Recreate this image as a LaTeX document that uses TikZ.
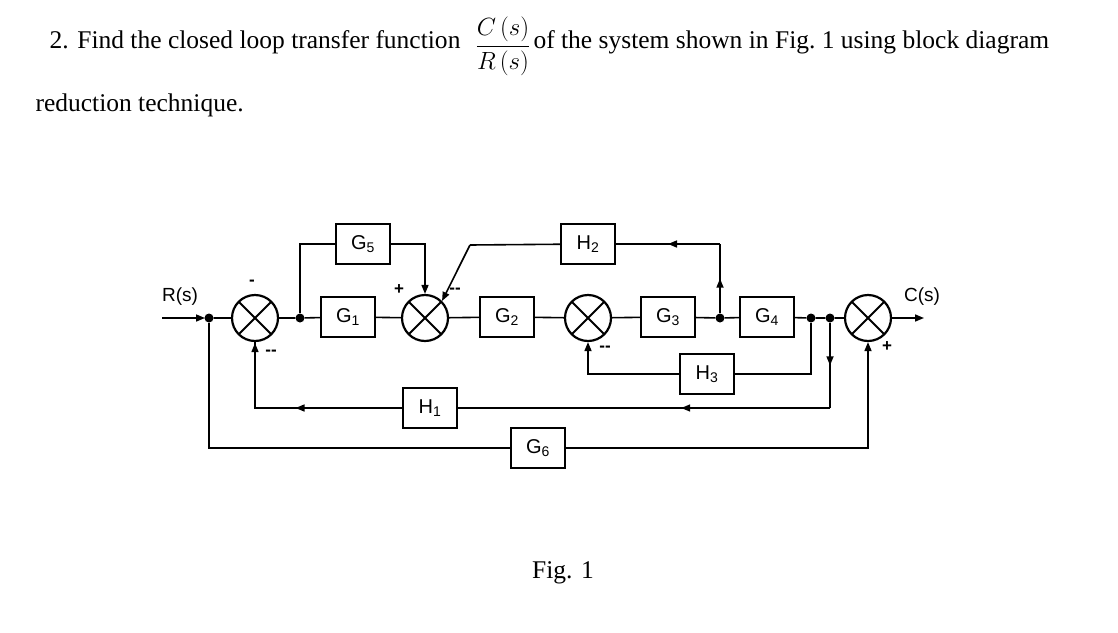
\documentclass[tikz,border=0pt]{standalone}
\usepackage{fontspec}
\setmainfont{Liberation Serif}
\newfontfamily\dsans{Liberation Sans}
\usetikzlibrary{arrows.meta,decorations.markings}
\begin{document}
\begin{tikzpicture}[x=1pt,y=-1pt,
  blk/.style={draw,line width=2pt,minimum width=54pt,minimum height=40pt,font=\dsans\fontsize{20}{22}\selectfont},
  sum/.style={draw,line width=2.2pt,circle,minimum size=46pt,inner sep=0pt,path picture={
     \draw[line width=2pt] ([shift={(-16pt,16pt)}]path picture bounding box.center) -- ([shift={(16pt,-16pt)}]path picture bounding box.center)
                             ([shift={(-16pt,-16pt)}]path picture bounding box.center) -- ([shift={(16pt,16pt)}]path picture bounding box.center);}},
  dot/.style={circle,fill,inner sep=0pt,minimum size=9pt},
  ln/.style={line width=1.6pt},
  arr/.style={ln,-{Triangle[length=9pt,width=7pt]}},
  mid/.style={ln,decoration={markings,mark=at position #1 with {\arrow{Triangle[length=9pt,width=7pt]}}},postaction=decorate},
  sg/.style={font=\dsans\bfseries\fontsize{17}{17}\selectfont},
  lab/.style={font=\dsans\fontsize{19}{21}\selectfont},
  txt/.style={font=\fontsize{25.5}{28}\selectfont}]
\useasboundingbox (0,0) rectangle (1118,632);
\fill[white] (0,0) rectangle (1118,632);
% text
\node[anchor=east,txt] (t1) at (464,42) {2. Find the closed loop transfer function};
\node[txt] (fr) at (503,46) {$\displaystyle\frac{C\left(s\right)}{R\left(s\right)}$};
\node[anchor=west,txt] (t2) at (530,42) {of the system shown in Fig.~1 using block diagram};
\node[anchor=west,txt] (t3) at (32,105) {reduction technique.};
\node[txt] (fig) at (563,573) {Fig. 1};
% blocks
\node[sum] (s1) at (255,318) {};
\node[sum] (s2) at (425,318) {};
\node[sum] (s3) at (588,318) {};
\node[sum] (s4) at (868,318) {};
\node[blk] (g1) at (348,317) {G\textsubscript{1}};
\node[blk] (g2) at (507,317) {G\textsubscript{2}};
\node[blk] (g3) at (668,317) {G\textsubscript{3}};
\node[blk] (g4) at (767,317) {G\textsubscript{4}};
\node[blk] (g5) at (363,244) {G\textsubscript{5}};
\node[blk] (h2) at (588,244) {H\textsubscript{2}};
\node[blk] (h3) at (707,374) {H\textsubscript{3}};
\node[blk] (h1) at (430,408) {H\textsubscript{1}};
\node[blk] (g6) at (538,448) {G\textsubscript{6}};
\node[dot] (jr) at (209,318) {};
\node[dot] (ja) at (300,318) {};
\node[dot] (jb) at (720,318) {};
\node[dot] (jc) at (811,318) {};
\node[dot] (jd) at (830,318) {};
\coordinate (in) at (162,318);
\coordinate (out) at (924,318);
\coordinate (kink) at (470,245);
\node[lab,anchor=south] (rl) at (180,309) {R(s)};
\node[lab,anchor=south] (cl) at (922,309) {C(s)};
% main path
\draw[arr] (in) -- ([xshift=-4pt]jr.center);
\draw[ln] (jr) -- (s1) (s1) -- (ja) (ja) -- (g1) (g1) -- (s2) (s2) -- (g2) (g2) -- (s3) (s3) -- (g3) (g3) -- (jb) (jb) -- (g4) (g4) -- (jc) (jc) -- (jd) (jd) -- (s4);
\draw[arr] (s4) -- (out);
% G5 path
\draw[ln] (ja) |- (g5);
\draw[arr] (g5) -| (s2.north);
% H2 loop
\draw[mid=0.5] (jb) -- (jb |- h2);
\draw[mid=0.5,ln] (jb |- h2) -- (h2);
\draw[ln] (h2) -- (kink);
\draw[arr] (kink) -- (s2.north east);
% H3 loop
\draw[ln] (jc) |- (h3);
\draw[arr] (h3) -| (s3.south);
% H1 loop
\draw[mid=0.5] (jd) -- (jd |- h1);
\draw[mid=0.4] (jd |- h1) -- (h1);
\draw[mid=0.5] (h1) -| (s1.south);
\draw[-{Triangle[length=9pt,width=7pt]},ln] (s1.south |- h1) -- ([yshift=-1pt]s1.south);
% G6 path
\draw[ln] (jr) |- (g6);
\draw[arr] (g6) -| (s4.south);
% signs
\node[sg] (m1) at (252,283) {-};
\node[sg] (m2) at (271,353) {--};
\node[sg] (p2) at (399,290) {+};
\node[sg] (m3) at (455,291) {--};
\node[sg] (m4) at (605,349) {--};
\node[sg] (p4) at (887,347) {+};
\end{tikzpicture}
\end{document}
